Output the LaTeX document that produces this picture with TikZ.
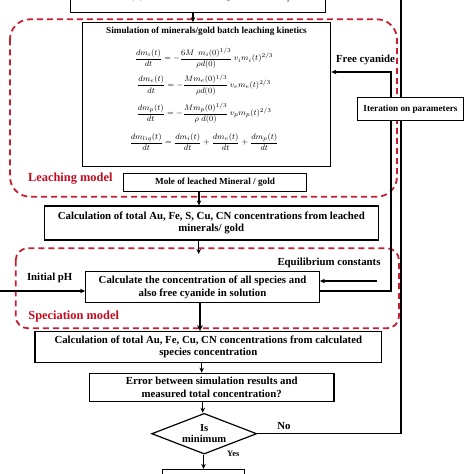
\documentclass[tikz,border=0pt]{standalone}
\usepackage{fontspec}
\setmainfont{Liberation Serif}
\usetikzlibrary{arrows.meta,shapes.geometric}
\definecolor{dred}{RGB}{200,30,50}
\definecolor{lred}{RGB}{196,10,30}
\begin{document}
\begin{tikzpicture}[x=1pt,y=-1pt,
  box/.style={draw,line width=1.2pt,fill=white,inner sep=0pt,align=center,font=\bfseries\fontsize{10.8}{12.4}\selectfont},
  sbox/.style={box,font=\bfseries\fontsize{9.2}{11}\selectfont},
  arr/.style={line width=1.3pt,-{Stealth[length=5pt,width=4.5pt]}},
  tarr/.style={line width=2pt,-{Stealth[length=6pt,width=5.5pt]}},
  ln/.style={line width=1.3pt},
  region/.style={draw=dred,line width=1.8pt,dash pattern=on 6pt off 4pt},
  lbl/.style={font=\bfseries\fontsize{10.8}{12.4}\selectfont,inner sep=0pt},
  model/.style={font=\bfseries\fontsize{12.4}{14}\selectfont,text=lred,inner sep=0pt},
  eq/.style={inner sep=0pt,font=\fontsize{8.4}{9}\selectfont}
]
\useasboundingbox (0,0) rectangle (474,474);

% dashed model regions
\draw[region,rounded corners=20pt] (10,19.3) rectangle (397,196.7);
\draw[region,rounded corners=12pt] (15.7,248.3) rectangle (399,328.3);

% boxes
\node[box,minimum width=255pt,minimum height=42pt] (top) at (198.2,-8.7) {\\[6pt]and $d(0)$ for each mineral/gold: $v_i$, $v_e$, $v_p$};
\node[box,minimum width=248.4pt,minimum height=144pt] (sim) at (206.5,94.7) {};
\node[sbox,draw=none,fill=none] (simtitle) at (206.5,31) {Simulation of minerals/gold batch leaching kinetics};
\node[eq] (eq1) at (204,58.5) {$\displaystyle \frac{dm_i(t)}{dt}=-\frac{6M\;\, m_i(0)^{1/3}}{\rho d(0)}\,v_i m_i(t)^{2/3}$};
\node[eq] (eq2) at (204,85) {$\displaystyle \frac{dm_e(t)}{dt}=-\frac{Mm_e(0)^{1/3}}{\rho d(0)}\,v_e m_e(t)^{2/3}$};
\node[eq] (eq3) at (204,113.5) {$\displaystyle \frac{dm_p(t)}{dt}=-\frac{Mm_p(0)^{1/3}}{\rho\; d(0)}\,v_p m_p(t)^{2/3}$};
\node[eq] (eq4) at (204,142) {$\displaystyle \frac{dm_{liq}(t)}{dt}=\frac{dm_i(t)}{dt}+\frac{dm_e(t)}{dt}+\frac{dm_p(t)}{dt}$};
\node[sbox,minimum width=183.4pt,minimum height=18.4pt] (mole) at (215,182.5) {Mole of leached Mineral / gold};
\node[box,minimum width=334pt,minimum height=34pt] (calc1) at (211.3,223) {Calculation of total Au, Fe, S, Cu, CN concentrations from leached\\minerals/ gold};
\node[box,minimum width=233.6pt,minimum height=31pt] (spec) at (202.5,287.2) {Calculate the concentration of all species and\\also free cyanide in solution};
\node[box,minimum width=346.7pt,minimum height=30.6pt] (calc2) at (208.3,347) {Calculation of total Au, Fe, Cu, CN concentrations from calculated\\species concentration};
\node[box,minimum width=244.7pt,minimum height=28.4pt] (err) at (211.7,387.5) {Error between simulation results and\\measured total concentration?};
\node[box,diamond,aspect=2.58,minimum width=105pt,minimum height=40.7pt,font=\bfseries\fontsize{10.6}{11}\selectfont] (dia) at (204.2,433.7) {Is\\minimum};
\node[box,minimum width=82pt,minimum height=31pt] (last) at (203.3,485) {};

% labels
\node[model] (lm) at (70.3,178.5) {Leaching model};
\node[model] (sm) at (73.7,317) {Speciation model};
\node[lbl] (fc) at (365.5,60) {Free cyanide};
\node[lbl] (ec) at (329,262.5) {Equilibrium constants};
\node[lbl] (ph) at (49.7,278.3) {Initial pH};
\node[lbl] (no) at (284,426) {No};
\node[lbl,font=\bfseries\fontsize{8.4}{10}\selectfont] (yes) at (233.3,454) {Yes};

% coordinates
\coordinate (topend) at (401,-5);
\coordinate (eqc) at (376.7,281);
\coordinate (phc) at (0,291);
\coordinate (specin) at (198.7,254);

% connectors
\draw[ln] (dia.east) -- (dia.east -| topend) -- (topend);
\draw[arr] (spec.east |- 0,291) -- (391,291) -- (391,72) -- (sim.east |- 0,72);
\draw[arr] (eqc) -- (spec.east |- eqc);
\draw[arr] (phc) -- (spec.west |- phc);
\draw[arr] (193,0 |- top.south) -- (193,0 |- sim.north);
\draw[arr] (199,0 |- mole.south) -- (199,0 |- calc1.north);
\draw[arr] (specin |- calc1.south) -- (specin);
\draw[tarr] (200,0 |- spec.south) -- (200,0 |- calc2.north);
\draw[arr] (201.7,0 |- calc2.south) -- (201.7,0 |- err.north);
\draw[arr] (202.7,0 |- err.south) -- (202.7,0 |- dia.north);
\draw[arr] (203.5,0 |- dia.south) -- (203.5,0 |- last.north);

% iteration box on top of lines
\node[sbox,minimum width=105.6pt,minimum height=23pt] (iter) at (410.5,109.2) {Iteration on parameters};
\end{tikzpicture}
\end{document}
